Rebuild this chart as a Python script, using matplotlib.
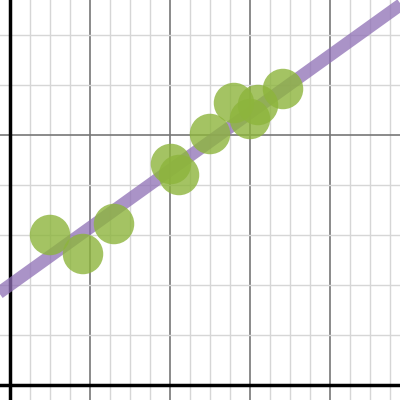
import matplotlib.pyplot as plt
import numpy as np

# scatter points
x_pts = [2.0, 3.65, 5.2, 8.05, 8.45, 10.0, 11.2, 12.0, 12.4, 13.65]
y_pts = [3.0, 2.62, 3.22, 4.42, 4.2, 5.02, 5.64, 5.32, 5.6, 5.92]

# fitted line
slope = 0.287
intercept = 2.0

fig = plt.figure(figsize=(4, 4), dpi=100)
ax = fig.add_axes([0, 0, 1, 1])
ax.set_xlim(-0.5, 19.5)
ax.set_ylim(-0.3, 7.7)

# grid
for gx in np.arange(1, 20):
    major = gx % 4 == 0
    ax.axvline(gx, color='#777777' if major else '#d6d6d6', lw=1.2 if major else 1.0, zorder=0)
for gy in np.arange(1, 8):
    major = gy % 5 == 0
    ax.axhline(gy, color='#777777' if major else '#d6d6d6', lw=1.2 if major else 1.0, zorder=0)
ax.axvline(0, color='black', lw=2.5, zorder=1)
ax.axhline(0, color='black', lw=2.5, zorder=1)

xs = np.array([-1, 21])
ax.plot(xs, slope * xs + intercept, color='#8e6fb5', alpha=0.75, lw=9, solid_capstyle='butt', zorder=2)
ax.scatter(x_pts, y_pts, s=850, color='#8db53c', alpha=0.8, edgecolors='none', zorder=3)

ax.axis('off')
fig.savefig('out.png', dpi=100)
